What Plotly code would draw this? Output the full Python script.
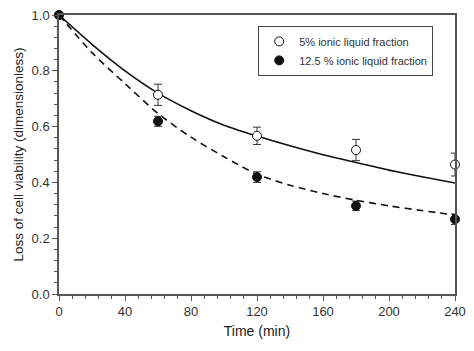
import plotly.graph_objects as go

# Measured data points
time_pts = [0, 60, 120, 180, 240]
v5 = [1.0, 0.714, 0.567, 0.516, 0.464]
e5 = [0.0, 0.038, 0.031, 0.038, 0.041]
v125 = [1.0, 0.619, 0.419, 0.316, 0.268]
e125 = [0.0, 0.018, 0.019, 0.017, 0.019]

# Fitted curves
fit_t = [0, 20, 40, 60, 80, 100, 120, 140, 160, 180, 200, 220, 240]
fit5 = [1.0, 0.895, 0.80, 0.72, 0.657, 0.605, 0.566, 0.531, 0.499, 0.471, 0.444, 0.42, 0.398]
fit125 = [1.0, 0.865, 0.754, 0.647, 0.562, 0.492, 0.429, 0.39, 0.36, 0.336, 0.316, 0.299, 0.283]

series_names = ["5% ionic liquid fraction", "12.5 % ionic liquid fraction"]

fig = go.Figure()
fig.add_trace(go.Scatter(x=fit_t, y=fit5, mode="lines",
                         line=dict(color="#111", width=1.6, shape="spline", smoothing=0.8),
                         showlegend=False, hoverinfo="skip", cliponaxis=False))
fig.add_trace(go.Scatter(x=fit_t, y=fit125, mode="lines",
                         line=dict(color="#111", width=1.6, shape="spline", smoothing=0.8, dash="7px,5px"),
                         showlegend=False, hoverinfo="skip", cliponaxis=False))
fig.add_trace(go.Scatter(x=time_pts, y=v5, mode="markers", name=series_names[0],
                         marker=dict(symbol="circle", size=9, color="white", line=dict(color="#111", width=1)),
                         error_y=dict(type="data", array=e5, visible=True, color="#333", thickness=1, width=4),
                         cliponaxis=False))
fig.add_trace(go.Scatter(x=time_pts, y=v125, mode="markers", name=series_names[1],
                         marker=dict(symbol="circle", size=9, color="#111", line=dict(color="#111", width=1)),
                         error_y=dict(type="data", array=e125, visible=True, color="#333", thickness=1, width=4),
                         cliponaxis=False))

axis_common = dict(showline=True, linecolor="#555", linewidth=1.5, mirror=True, showgrid=False, zeroline=False,
                   ticks="outside", ticklen=5, tickwidth=1, tickcolor="#555",
                   tickfont=dict(family="Liberation Sans, Arial, sans-serif", size=13, color="#333"))

fig.update_layout(
    width=474, height=351,
    margin=dict(l=59, r=19, t=8, b=57),
    paper_bgcolor="white", plot_bgcolor="white",
    font=dict(family="Liberation Sans, Arial, sans-serif", size=13, color="#222"),
    xaxis=dict(range=[0, 240], tickmode="array", tickvals=[0, 40, 80, 120, 160, 200, 240],
               title=dict(text="Time (min)", standoff=8, font=dict(size=14)),
               minor=dict(dtick=8, tick0=0, ticks="outside", ticklen=3, tickcolor="#555"),
               **axis_common),
    yaxis=dict(range=[0, 1], dtick=0.2, tickformat=".1f",
               title=dict(text="Loss of cell viability (dimensionless)", standoff=5, font=dict(size=13.5)),
               minor=dict(dtick=0.04, tick0=0, ticks="outside", ticklen=3, tickcolor="#555"),
               **axis_common),
    legend=dict(x=0.503, y=0.961, xanchor="left", yanchor="top", bgcolor="white",
                bordercolor="#444", borderwidth=1, font=dict(size=11, color="#333"),
                tracegroupgap=0),
    showlegend=True,
)

fig.write_html("out.html")
